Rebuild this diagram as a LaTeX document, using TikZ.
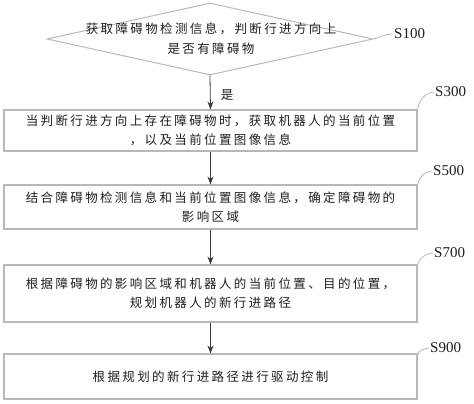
\documentclass[tikz,border=0pt]{standalone}
\usepackage{fontspec}
\setmainfont{Liberation Serif}
\newfontfamily\cjk[LetterSpace=19]{Noto Sans CJK SC}
\usetikzlibrary{shapes.geometric,arrows.meta}
\definecolor{boxline}{HTML}{B8B8B8}
\definecolor{arrowcol}{HTML}{3A3A3A}
\definecolor{txt}{HTML}{1E1E1E}
\tikzset{
  stepbox/.style={draw=boxline, line width=1.1pt, rectangle, inner sep=0pt,
    minimum width=413pt, text=txt, align=center,
    font=\cjk\fontsize{12.5}{19}\selectfont},
  decide/.style={draw=boxline, line width=1pt, diamond, inner sep=0pt,
    minimum width=326pt, minimum height=72pt, text=txt, align=center},
  flow/.style={draw=arrowcol, line width=0.8pt, -{Stealth[length=8pt,width=6pt]}},
  steplab/.style={anchor=west, inner sep=1pt, text=txt, font=\fontsize{15}{17}\selectfont},
  labline/.style={draw=boxline, line width=0.8pt},
  yes/.style={text=txt, font=\cjk\fontsize{12.5}{15}\selectfont, inner sep=0pt}
}
\begin{document}
\begin{tikzpicture}[x=1pt,y=-1pt]
\useasboundingbox (0,0) rectangle (474,404);
\node[decide] (d) at (210,39) {};
\node[text=txt, align=center, inner sep=0pt, font=\cjk\fontsize{12.5}{20}\selectfont] (dt) at (211,39)
  {获取障碍物检测信息，判断行进方向上\\是否有障碍物};
\node[stepbox, minimum height=41pt] (b1) at (210.5,130.5)
  {当判断行进方向上存在障碍物时，获取机器人的当前位置\\，以及当前位置图像信息};
\node[stepbox, minimum height=44pt] (b2) at (210.5,207)
  {结合障碍物检测信息和当前位置图像信息，确定障碍物的\\影响区域};
\node[stepbox, minimum height=57pt] (b3) at (210.5,293.5)
  {根据障碍物的影响区域和机器人的当前位置、目的位置，\\规划机器人的新行进路径};
\node[stepbox, minimum height=45pt] (b4) at (210.5,376.5)
  {根据规划的新行进路径进行驱动控制};
\draw[flow] (d.south) -- (b1.north);
\node[yes] (y) at (227,95) {是};
\draw[flow] (b1.south) -- (b2.north);
\draw[flow] (b2.south) -- (b3.north);
\draw[flow] (b3.south) -- (b4.north);
\node[steplab] (s100) at (393,34) {S100};
\node[steplab] (s300) at (434,92) {S300};
\node[steplab] (s500) at (432,171) {S500};
\node[steplab] (s700) at (433,253) {S700};
\node[steplab] (s900) at (429,348) {S900};
\draw[labline] (d.east) to[out=15,in=180] (s100.west);
\draw[labline] ([yshift=-3pt]b1.north east) to[out=90,in=185] (s300.west);
\draw[labline] ([yshift=-3pt]b2.north east) to[out=90,in=185] (s500.west);
\draw[labline] ([yshift=-3pt]b3.north east) to[out=90,in=185] (s700.west);
\draw[labline] ([yshift=-3pt]b4.north east) to[out=90,in=185] (s900.west);
\end{tikzpicture}
\end{document}
